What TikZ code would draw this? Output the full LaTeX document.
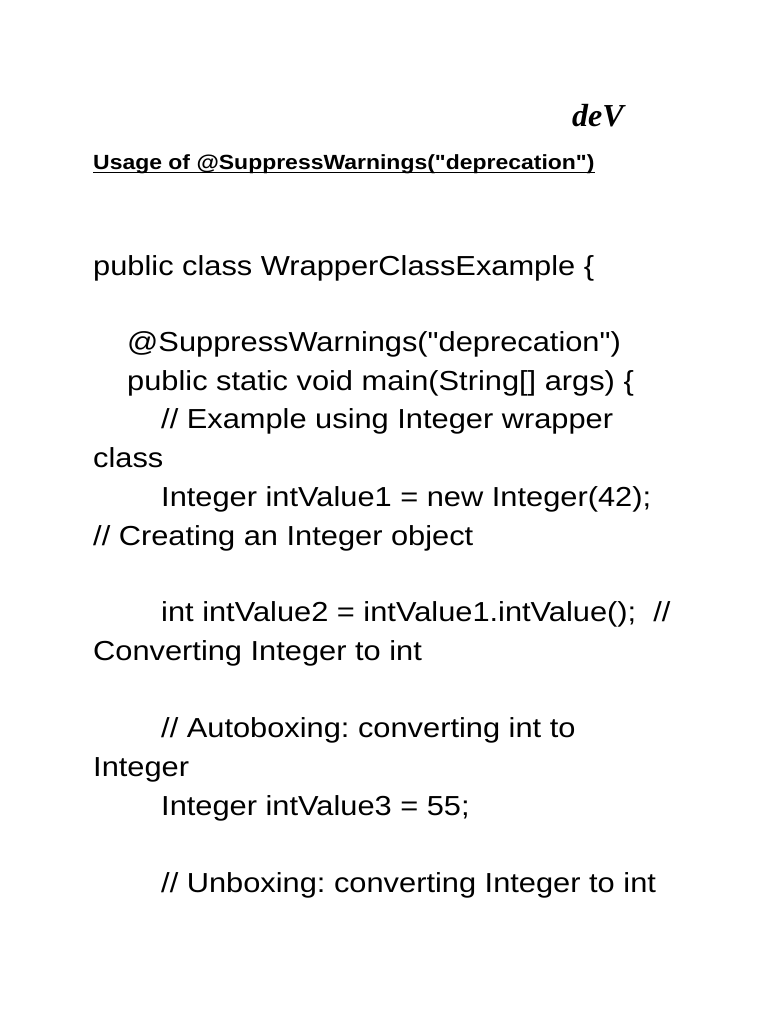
\documentclass[tikz,border=0pt]{standalone}
\usepackage{fontspec}
\setmainfont{Liberation Sans}[FakeStretch=1.12,Ligatures=TeXOff]
\newfontfamily\logofont{Liberation Serif}
\frenchspacing
\begin{document}
\begin{tikzpicture}[x=1pt,y=1pt,txt/.style={anchor=base west,inner sep=0pt,font=\fontsize{27.5}{30}\selectfont}]
\useasboundingbox (0,0) rectangle (768,-1024);
\fill[white] (0,0) rectangle (768,-1024);
\node[anchor=base west,inner sep=0pt,font=\logofont\fontsize{32}{34}\selectfont\bfseries\itshape] (logo) at (572,-127) {deV};
\node[anchor=base west,inner sep=0pt,font=\fontsize{20.5}{22}\selectfont\bfseries] (title) at (93,-170) {Usage of @SuppressWarnings("deprecation")};
\draw[line width=1.2pt] ([yshift=-2.5pt]title.base west) -- ([yshift=-2.5pt]title.base east);
\node[txt] (l1) at (93,-275) {public class WrapperClassExample \{};
\node[txt] (l2) at (127,-351) {@SuppressWarnings("deprecation")};
\node[txt] (l3) at (127,-390) {public static void main(String[] args) \{};
\node[txt] (l4) at (161,-428) {// Example using Integer wrapper};
\node[txt] (l5) at (93,-467) {class};
\node[txt] (l6) at (161,-506) {Integer intValue1 = new Integer(42);};
\node[txt] (l7) at (93,-545) {// Creating an Integer object};
\node[txt] (l8) at (161,-621) {int intValue2 = intValue1.intValue();\ \ //};
\node[txt] (l9) at (93,-660) {Converting Integer to int};
\node[txt] (l10) at (161,-737) {// Autoboxing: converting int to};
\node[txt] (l11) at (93,-776) {Integer};
\node[txt] (l12) at (161,-815) {Integer intValue3 = 55;};
\node[txt] (l13) at (161,-892) {// Unboxing: converting Integer to int};
\end{tikzpicture}
\end{document}
